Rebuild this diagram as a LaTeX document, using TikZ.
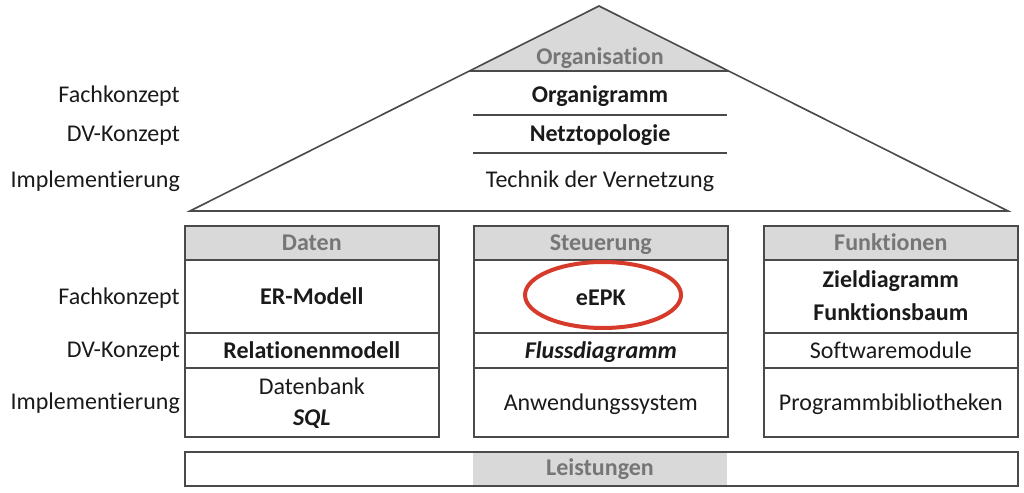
\documentclass[tikz,border=0pt]{standalone}
\usepackage{fontspec}
\setmainfont{Carlito}[Ligatures=NoCommon, RawFeature={-liga;-clig;-calt}]
\definecolor{linec}{HTML}{4A4A4A}
\definecolor{hdrfill}{HTML}{D9D9D9}
\definecolor{hdrtext}{HTML}{767676}
\definecolor{txt}{HTML}{1A1A1A}
\definecolor{ringred}{HTML}{D63A2A}
\begin{document}
\fontsize{24}{29}\selectfont
\begin{tikzpicture}[x=1pt,y=-1pt,
  every node/.style={text=txt},
  hdr/.style={draw=linec, line width=1.6pt, fill=hdrfill, font=\bfseries, text=hdrtext,
    minimum width=254pt, minimum height=34pt, inner sep=0pt, anchor=north west,
    text height=0.8em, text depth=0.15em},
  cell/.style={draw=linec, line width=1.6pt, minimum width=254pt, inner sep=0pt,
    anchor=north west, align=center},
  sep/.style={draw=linec, line width=1.6pt},
  lbl/.style={anchor=east, inner sep=0pt, text height=0.8em, text depth=0.15em},
  txtnode/.style={inner sep=0pt, align=center, text height=0.8em, text depth=0.15em},
]
\useasboundingbox (0,0) rectangle (1024,492);

% roof
\coordinate (apex) at (599,6);
\coordinate (bl) at (190,211);
\coordinate (br) at (1008,211);
\begin{scope}
  \clip (0,0) rectangle (1024,71);
  \fill[hdrfill] (apex) -- (bl) -- (br) -- cycle;
\end{scope}
\draw[sep, line join=miter] (bl) -- (apex) -- (br) -- cycle;
\coordinate (g1) at (469,71); \coordinate (g2) at (729,71);
\draw[sep] (g1) -- (g2);
\coordinate (s1a) at (473,115); \coordinate (s1b) at (727,115);
\coordinate (s2a) at (473,153); \coordinate (s2b) at (727,153);
\draw[sep] (s1a) -- (s1b);
\draw[sep] (s2a) -- (s2b);
\node[txtnode, font=\bfseries, text=hdrtext] (org) at (600,57) {Organisation};
\node[txtnode, font=\bfseries] (orgfk) at (600,95) {Organigramm};
\node[txtnode, font=\bfseries] (orgdv) at (600,134) {Netztopologie};
\node[txtnode] (orgim) at (600,180) {Technik der Vernetzung};

% row labels upper
\node[lbl] (lfk1) at (180,95) {Fachkonzept};
\node[lbl] (ldv1) at (180,134) {DV-Konzept};
\node[lbl] (lim1) at (180,180) {Implementierung};

% row labels lower
\node[lbl] (lfk2) at (180,297) {Fachkonzept};
\node[lbl] (ldv2) at (180,350) {DV-Konzept};
\node[lbl] (lim2) at (180,402) {Implementierung};

% columns
\foreach \nm/\x/\h in {d/184/Daten, s/473/Steuerung, f/763/Funktionen}{
  \node[hdr] (\nm h) at (\x,225) {\h};
  \node[cell, minimum height=73pt] (\nm 1) at (\x,259) {};
  \node[cell, minimum height=35pt] (\nm 2) at (\x,332) {};
  \node[cell, minimum height=69pt] (\nm 3) at (\x,367) {};
}

% Daten
\node[txtnode, font=\bfseries] (er) at (d1.center) {ER-Modell};
\node[txtnode, font=\bfseries] (rel) at (d2.center) {Relationenmodell};
\node[txtnode] (db) at ([yshift=16pt]d3.center) {Datenbank};
\node[txtnode, font=\bfseries\itshape] (sql) at ([yshift=-15pt]d3.center) {SQL};

% Steuerung
\node[txtnode, font=\bfseries] (epk) at ([yshift=-1pt]s1.center) {eEPK};
\node[txtnode, font=\bfseries\itshape] (flu) at (s2.center) {Flussdiagramm};
\node[txtnode] (anw) at (s3.center) {Anwendungssystem};

% Funktionen
\node[txtnode, font=\bfseries] (ziel) at ([yshift=17pt]f1.center) {Zieldiagramm};
\node[txtnode, font=\bfseries] (fbaum) at ([yshift=-16pt]f1.center) {Funktionsbaum};
\node[txtnode] (swm) at (f2.center) {Softwaremodule};
\node[txtnode] (pb) at (f3.center) {Programmbibliotheken};

% red ring
\draw[ringred, line width=4pt] (603,295) ellipse [x radius=78, y radius=33];

% Leistungen bar
\fill[hdrfill] (473,451) rectangle (727,485);
\node[draw=linec, line width=1.6pt, minimum width=833pt, minimum height=34pt,
  inner sep=0pt, anchor=north west] (bar) at (184,451) {};
\node[txtnode, font=\bfseries, text=hdrtext] (leist) at (600,468) {Leistungen};
\end{tikzpicture}
\end{document}
